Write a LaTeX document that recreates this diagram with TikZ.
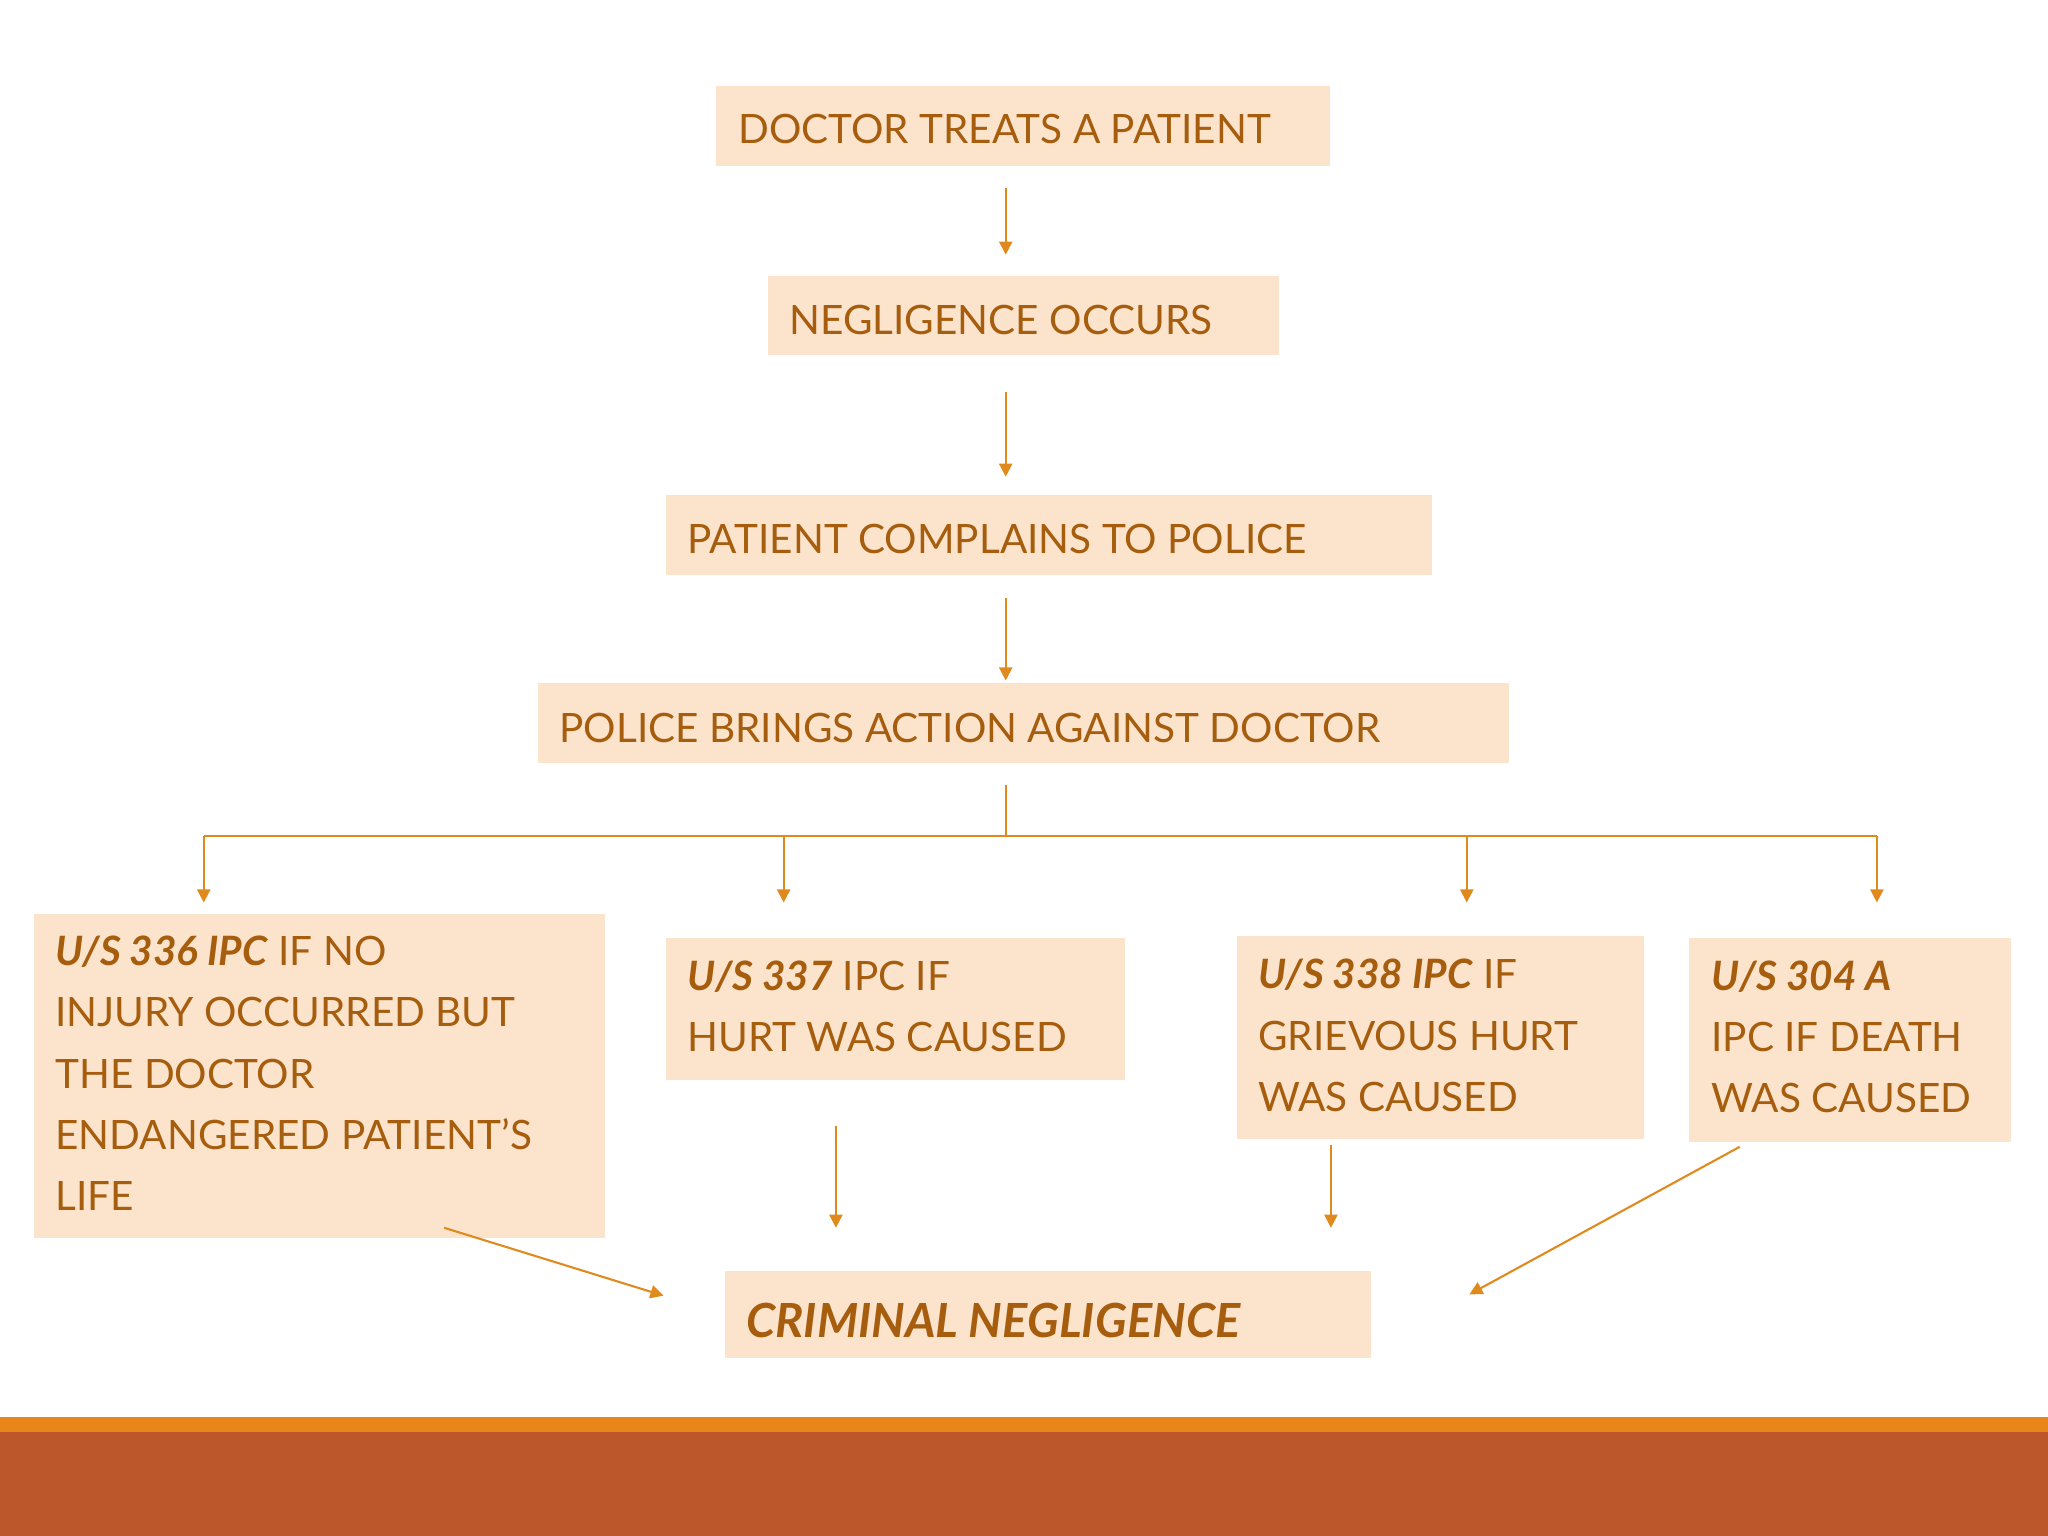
\documentclass[tikz,border=0pt]{standalone}
\usepackage{fontspec}
\setmainfont{Lato}
\usetikzlibrary{arrows.meta}
\definecolor{boxf}{HTML}{FCE4CC}
\definecolor{txt}{HTML}{A65E0E}
\definecolor{arr}{HTML}{E08A1E}
\definecolor{band}{HTML}{BC572B}
\definecolor{bandl}{HTML}{E8861A}
\begin{document}
\begin{tikzpicture}[x=0.5pt,y=-0.5pt,
  box/.style={fill=boxf,draw=none},
  t/.style={anchor=west,text=txt,font=\fontsize{15.5}{23.5}\selectfont,align=left,inner sep=0pt},
  a/.style={draw=arr,line width=0.8pt,-{Triangle[length=5pt,width=5pt]}},
  l/.style={draw=arr,line width=0.8pt}]
\useasboundingbox (0,0) rectangle (1568,1176);
\fill[bandl] (0,1085) rectangle (1568,1096);
\fill[band] (0,1096) rectangle (1568,1176);
\fill[box] (548,66) rectangle (1018,127);
\fill[box] (588,211) rectangle (979,272);
\fill[box] (510,379) rectangle (1096,440);
\fill[box] (412,523) rectangle (1155,584);
\fill[box] (26,700) rectangle (463,948);
\fill[box] (510,718) rectangle (861,827);
\fill[box] (947,717) rectangle (1259,872);
\fill[box] (1293,718) rectangle (1540,874);
\fill[box] (555,973) rectangle (1050,1040);
\node[t] (n1) at (565,99) {DOCTOR TREATS A PATIENT};
\node[t] (n2) at (604,245) {NEGLIGENCE OCCURS};
\node[t] (n3) at (526,413) {PATIENT COMPLAINS TO POLICE};
\node[t] (n4) at (428,557) {POLICE BRINGS ACTION AGAINST DOCTOR};
\node[t,anchor=north west] (n5) at (42,716) {\textbf{\textit{U/S 336 IPC}} IF NO\\INJURY OCCURRED BUT\\THE DOCTOR\\ENDANGERED PATIENT’S\\LIFE};
\node[t,anchor=north west] (n6) at (526,735) {\textbf{\textit{U/S 337}} IPC IF\\HURT WAS CAUSED};
\node[t,anchor=north west] (n7) at (963,734) {\textbf{\textit{U/S 338 IPC}} IF\\GRIEVOUS HURT\\WAS CAUSED};
\node[t,anchor=north west] (n8) at (1310,735) {\textbf{\textit{U/S 304 A}}\\IPC IF DEATH\\WAS CAUSED};
\node[t] (n9) at (571,1011) {\fontsize{18}{20}\selectfont\textbf{\textit{CRIMINAL NEGLIGENCE}}};
\coordinate (a1) at (770,144); \coordinate (b1) at (770,195);
\coordinate (a2) at (770,300); \coordinate (b2) at (770,365);
\coordinate (a3) at (770,458); \coordinate (b3) at (770,521);
\coordinate (a4) at (770,601); \coordinate (j) at (770,640);
\coordinate (hl) at (156,640); \coordinate (hr) at (1437,640);
\coordinate (h2) at (600,640); \coordinate (h3) at (1123,640);
\coordinate (d1) at (156,691); \coordinate (d2) at (600,691);
\coordinate (d3) at (1123,691); \coordinate (d4) at (1437,691);
\coordinate (e1) at (340,940); \coordinate (f1) at (508,992);
\coordinate (e2) at (640,862); \coordinate (f2) at (640,940);
\coordinate (e3) at (1019,877); \coordinate (f3) at (1019,940);
\coordinate (e4) at (1332,878); \coordinate (f4) at (1125,991);
\draw[a] (a1) -- (b1);
\draw[a] (a2) -- (b2);
\draw[a] (a3) -- (b3);
\draw[l] (a4) -- (j);
\draw[l] (hl) -- (hr);
\draw[a] (hl) -- (d1);
\draw[a] (h2) -- (d2);
\draw[a] (h3) -- (d3);
\draw[a] (hr) -- (d4);
\draw[a] (e1) -- (f1);
\draw[a] (e2) -- (f2);
\draw[a] (e3) -- (f3);
\draw[a] (e4) -- (f4);
\end{tikzpicture}
\end{document}
